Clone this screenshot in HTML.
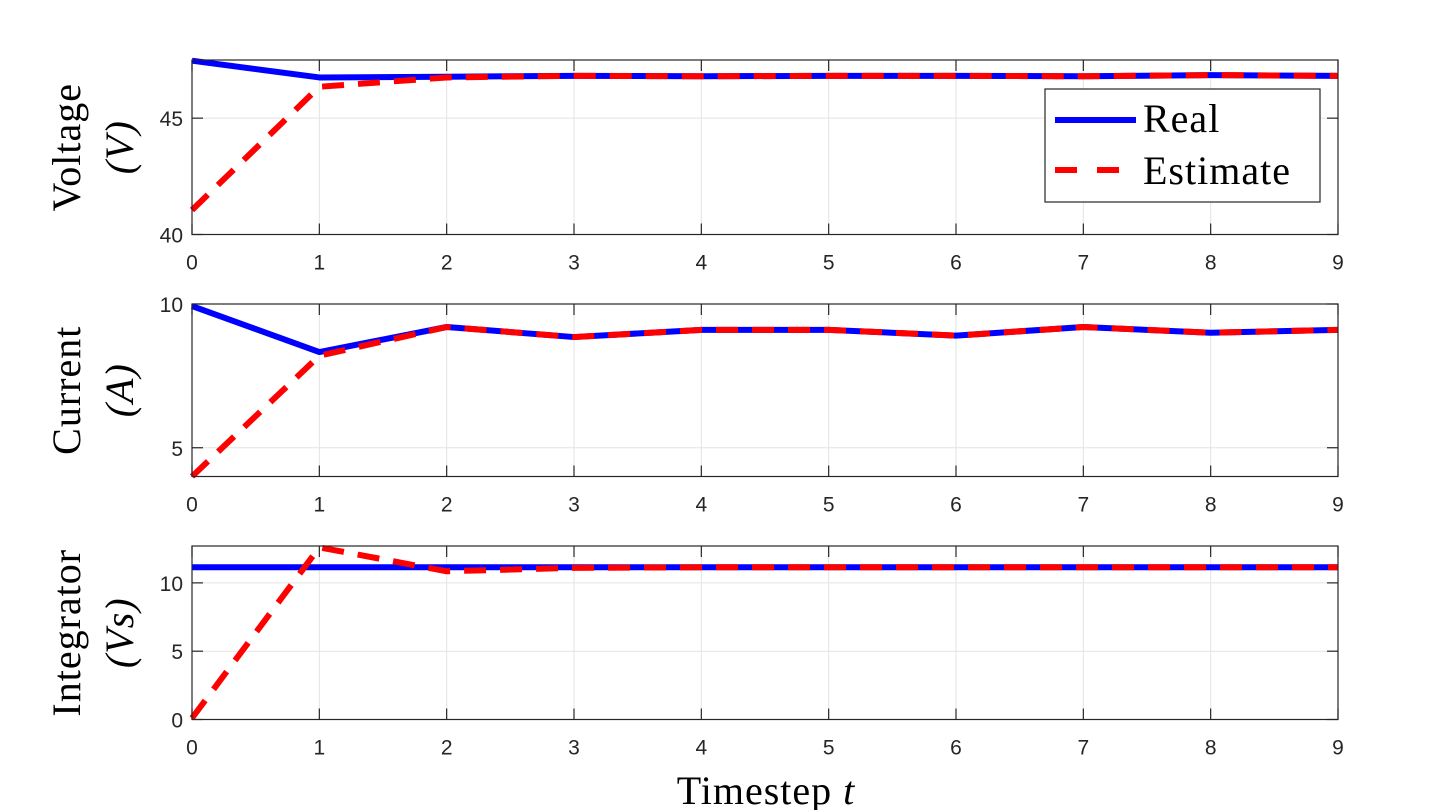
<!DOCTYPE html>
<html><head><meta charset="utf-8"><style>
html,body{margin:0;padding:0;background:#fff;}
svg{display:block;}
.tick{font-family:"Liberation Sans",sans-serif;font-size:21px;fill:#262626;}
.lab{font-family:"Liberation Serif",serif;font-size:40px;fill:#000;letter-spacing:1px;}
</style></head><body>
<svg id="fig" width="1440" height="810" viewBox="0 0 1440 810" xmlns="http://www.w3.org/2000/svg">
<rect width="1440" height="810" fill="#fff"/>
</svg>
<script>
const timesteps=[0,1,2,3,4,5,6,7,8,9];
const xTicks=[0,1,2,3,4,5,6,7,8,9];
const voltageReal=[47.47,46.75,46.78,46.82,46.8,46.82,46.82,46.8,46.85,46.82];
const voltageEst=[41.05,46.35,46.75,46.82,46.8,46.82,46.82,46.8,46.85,46.82];
const voltageTicks=[40,45];
const currentReal=[9.93,8.33,9.2,8.85,9.1,9.1,8.9,9.2,9.0,9.1];
const currentEst=[4.0,8.2,9.2,8.85,9.1,9.1,8.9,9.2,9.0,9.1];
const currentTicks=[5,10];
const integReal=[11.14,11.14,11.14,11.14,11.14,11.14,11.14,11.14,11.14,11.14];
const integEst=[0.1,12.6,10.85,11.1,11.14,11.14,11.14,11.14,11.14,11.14];
const integTicks=[0,5,10];

const NS="http://www.w3.org/2000/svg";
const svg=document.getElementById('fig');
function mk(tag,attrs,parent){const e=document.createElementNS(NS,tag);for(const k in attrs)e.setAttribute(k,attrs[k]);(parent||svg).appendChild(e);return e;}
const X0=192,X1=1338;
const xs=v=>X0+(v-0)/(9-0)*(X1-X0);

const panels=[
 {name:'voltage',top:60,bot:234.5,min:40,max:47.5,ticks:voltageTicks,real:voltageReal,est:voltageEst,l1:'Voltage',l2:'(V)'},
 {name:'current',top:304,bot:476.5,min:4,max:10,ticks:currentTicks,real:currentReal,est:currentEst,l1:'Current',l2:'(A)'},
 {name:'integrator',top:546,bot:719.5,min:0,max:12.7,ticks:integTicks,real:integReal,est:integEst,l1:'Integrator',l2:'(Vs)'}
];
panels.forEach(p=>{
 const g=mk('g',{});
 
 
 const ys=v=>p.bot-(v-p.min)/(p.max-p.min)*(p.bot-p.top);
 xTicks.forEach(t=>{const l=mk('line',{x1:xs(t),x2:xs(t),y1:p.top,y2:p.bot,stroke:'#e3e3e3','stroke-width':1},g);
  });
 p.ticks.forEach(t=>{const l=mk('line',{x1:X0,x2:X1,y1:ys(t),y2:ys(t),stroke:'#e3e3e3','stroke-width':1},g);
  });
 const pts=a=>a.map((v,i)=>xs(timesteps[i])+','+ys(v)).join(' ');
 const r=mk('polyline',{points:pts(p.real),fill:'none',stroke:'#0000ff','stroke-width':6,'stroke-linejoin':'round'},g);
 
 const e=mk('polyline',{points:pts(p.est),fill:'none',stroke:'#ff0000','stroke-width':6,'stroke-dasharray':'22 14','stroke-linejoin':'round'},g);
 
 const b=mk('rect',{x:X0,y:p.top,width:X1-X0,height:p.bot-p.top,fill:'none',stroke:'#262626','stroke-width':1.2},g);
 
 xTicks.forEach(t=>{
  mk('line',{x1:xs(t),x2:xs(t),y1:p.bot,y2:p.bot-11,stroke:'#262626','stroke-width':1.2},g);
  mk('line',{x1:xs(t),x2:xs(t),y1:p.top,y2:p.top+11,stroke:'#262626','stroke-width':1.2},g);
  const tx=mk('text',{x:xs(t),y:p.bot+35,'text-anchor':'middle',class:'tick'},g);tx.textContent=t;
  
 });
 p.ticks.forEach(t=>{
  mk('line',{x1:X0,x2:X0+11,y1:ys(t),y2:ys(t),stroke:'#262626','stroke-width':1.2},g);
  mk('line',{x1:X1,x2:X1-11,y1:ys(t),y2:ys(t),stroke:'#262626','stroke-width':1.2},g);
  const tx=mk('text',{x:X0-9,y:ys(t)+8,'text-anchor':'end',class:'tick'},g);tx.textContent=t;
  
 });
 const cy=(p.top+p.bot)/2;
 const t1=mk('text',{x:0,y:0,'text-anchor':'middle',class:'lab',transform:`translate(80,${cy}) rotate(-90)`},g);t1.textContent=p.l1;
 
 const t2=mk('text',{x:0,y:0,'text-anchor':'middle',class:'lab','font-style':'italic',transform:`translate(133,${cy}) rotate(-90)`},g);t2.textContent=p.l2;
 
});
</script>
<svg style="position:absolute;left:0;top:0" width="1440" height="810">
<g>
<rect x="1045" y="89" width="275" height="113" fill="#fff" stroke="#262626" stroke-width="1.2"/>
<line x1="1055" y1="120" x2="1136" y2="120" stroke="#0000ff" stroke-width="6"/>
<text x="1143" y="132" class="lab" font-size="41">Real</text>
<line x1="1055" y1="170" x2="1136" y2="170" stroke="#ff0000" stroke-width="6" stroke-dasharray="22 20"/>
<text x="1143" y="184" class="lab" font-size="41">Estimate</text>
</g>
<text x="766" y="804" text-anchor="middle" class="lab" font-size="44">Timestep <tspan font-style="italic">t</tspan></text>
</svg>
</body></html>
